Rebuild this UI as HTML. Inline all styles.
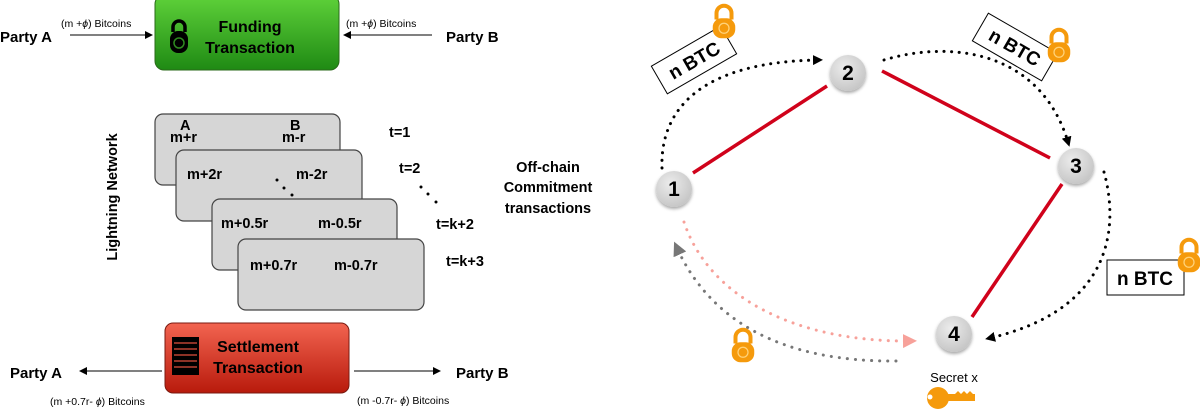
<!DOCTYPE html>
<html><head><meta charset="utf-8"><style>
html,body{margin:0;padding:0;background:#fff;width:1200px;height:412px;overflow:hidden}
svg{display:block}
text{font-family:"Liberation Sans",sans-serif}
.b{font-weight:bold}
</style></head><body>
<svg width="1200" height="412" viewBox="0 0 1200 412" xmlns="http://www.w3.org/2000/svg">
<defs>
<linearGradient id="g" x1="0" y1="0" x2="0" y2="1"><stop offset="0" stop-color="#5fd23a"/><stop offset="1" stop-color="#1f8a14"/></linearGradient>
<linearGradient id="r" x1="0" y1="0" x2="0" y2="1"><stop offset="0" stop-color="#f26450"/><stop offset="1" stop-color="#b81a0c"/></linearGradient>
<radialGradient id="n" cx="0.4" cy="0.35" r="0.7"><stop offset="0" stop-color="#ececec"/><stop offset="1" stop-color="#c4c4c4"/></radialGradient>
<filter id="sh" x="-50%" y="-50%" width="200%" height="200%"><feDropShadow dx="0" dy="2" stdDeviation="1.5" flood-opacity="0.35"/></filter>
<marker id="ab" markerWidth="10" markerHeight="10" refX="5" refY="5" orient="auto" markerUnits="userSpaceOnUse"><path d="M0,0 L10,5 L0,10 z" fill="#000"/></marker>
<marker id="ap" markerWidth="14" markerHeight="14" refX="7" refY="7" orient="auto" markerUnits="userSpaceOnUse"><path d="M0,0 L14,7 L0,14 z" fill="#f7a19a"/></marker>
<marker id="ag" markerWidth="14" markerHeight="14" refX="7" refY="7" orient="auto" markerUnits="userSpaceOnUse"><path d="M0,0 L14,7 L0,14 z" fill="#777"/></marker>
<marker id="sa" markerWidth="8" markerHeight="8" refX="7" refY="4" orient="auto" markerUnits="userSpaceOnUse"><path d="M0,0 L8,4 L0,8 z" fill="#000"/></marker>
<g id="lock" transform="scale(1.25)"><path d="M-6,-2 V-7 A6,6 0 0 1 6,-7 V-2" fill="none" stroke="#f59a0c" stroke-width="3.2"/><rect x="-9" y="-3" width="18" height="16" rx="7" fill="#f59a0c"/><circle cx="0" cy="5" r="4" fill="none" stroke="#ffd27a" stroke-width="1"/></g>
</defs>

<!-- Funding -->
<rect x="155" y="-5" width="184" height="75" rx="9" fill="url(#g)" stroke="#2a6a1a"/>
<g transform="translate(179,38)"><path d="M-6,-6 V-11 A6,6 0 0 1 6,-11 V-6" fill="none" stroke="#000" stroke-width="3.5"/><rect x="-9" y="-7" width="18" height="22" rx="8" fill="#000"/><circle cx="0" cy="5" r="5" fill="none" stroke="#2f8a20" stroke-width="1.5"/></g>
<text class="b" x="250" y="32" font-size="16" text-anchor="middle">Funding</text>
<text class="b" x="250" y="53" font-size="16" text-anchor="middle">Transaction</text>
<text class="b" x="0" y="42" font-size="15">Party A</text>
<text class="b" x="446" y="42" font-size="15">Party B</text>
<text x="61" y="27" font-size="10.5">(m +<tspan font-style="italic">ϕ</tspan>) Bitcoins</text>
<text x="346" y="27" font-size="10.5">(m +<tspan font-style="italic">ϕ</tspan>) Bitcoins</text>
<line x1="70" y1="35" x2="152" y2="35" stroke="#000" marker-end="url(#sa)"/>
<line x1="432" y1="35" x2="344" y2="35" stroke="#000" marker-end="url(#sa)"/>

<!-- cards -->
<g fill="#d6d6d6" stroke="#444" stroke-width="1.2">
<rect x="155" y="114" width="185" height="71" rx="8"/>
<rect x="176" y="150" width="186" height="71" rx="8"/>
<rect x="212" y="199" width="185" height="71" rx="8"/>
<rect x="238" y="239" width="186" height="71" rx="8"/>
</g>
<g font-size="14.5">
<text class="b" x="180" y="130">A</text><text class="b" x="290" y="130">B</text>
<text class="b" x="170" y="142">m+r</text><text class="b" x="282" y="142">m-r</text>
<text class="b" x="187" y="179">m+2r</text><text class="b" x="296" y="179">m-2r</text>
<text class="b" x="221" y="228">m+0.5r</text><text class="b" x="318" y="228">m-0.5r</text>
<text class="b" x="250" y="270">m+0.7r</text><text class="b" x="334" y="270">m-0.7r</text>
<text class="b" x="389" y="137">t=1</text><text class="b" x="399" y="173">t=2</text>
<text class="b" x="436" y="229">t=k+2</text><text class="b" x="446" y="266">t=k+3</text>
</g>
<g fill="#000"><circle cx="277" cy="180" r="1.5"/><circle cx="284" cy="188" r="1.5"/><circle cx="292" cy="195" r="1.5"/>
<circle cx="421" cy="187" r="1.5"/><circle cx="428" cy="194" r="1.5"/><circle cx="436" cy="202" r="1.5"/></g>
<g font-size="14.5" text-anchor="middle"><text class="b" x="548" y="172">Off-chain</text><text class="b" x="548" y="192">Commitment</text><text class="b" x="548" y="213">transactions</text></g>
<text class="b" x="0" y="0" font-size="14.5" text-anchor="middle" transform="translate(117,197) rotate(-90)">Lightning Network</text>

<!-- Settlement -->
<rect x="165" y="323" width="184" height="70" rx="8" fill="url(#r)" stroke="#7a1a10"/>
<g fill="#000"><rect x="172" y="337" width="27" height="38"/></g>
<g stroke="#e0503c" stroke-width="1.3"><line x1="174" y1="343" x2="197" y2="343"/><line x1="174" y1="349" x2="197" y2="349"/><line x1="174" y1="355" x2="197" y2="355"/><line x1="174" y1="361" x2="197" y2="361"/><line x1="174" y1="367" x2="197" y2="367"/></g>
<text class="b" x="258" y="352" font-size="16" text-anchor="middle">Settlement</text>
<text class="b" x="258" y="373" font-size="16" text-anchor="middle">Transaction</text>
<text class="b" x="10" y="378" font-size="15">Party A</text>
<text class="b" x="456" y="378" font-size="15">Party B</text>
<line x1="162" y1="371" x2="80" y2="371" stroke="#000" marker-end="url(#sa)"/>
<line x1="354" y1="371" x2="440" y2="371" stroke="#000" marker-end="url(#sa)"/>
<text x="50" y="405" font-size="10.5">(m +0.7r- <tspan font-style="italic">ϕ</tspan>) Bitcoins</text>
<text x="357" y="404" font-size="10.5">(m -0.7r- <tspan font-style="italic">ϕ</tspan>) Bitcoins</text>

<!-- Right network -->
<g stroke="#d0021b" stroke-width="3.5">
<line x1="693" y1="173" x2="827" y2="86"/>
<line x1="882" y1="71" x2="1050" y2="158"/>
<line x1="1062" y1="184" x2="972" y2="317"/>
</g>
<g fill="none" stroke="#000" stroke-width="3" stroke-dasharray="0.1 7.5" stroke-linecap="round">
<path d="M662,168 C660,110 700,62 818,60" marker-end="url(#ab)"/>
<path d="M884,60 C950,40 1040,50 1068,142" marker-end="url(#ab)"/>
<path d="M1104,172 C1120,230 1110,310 990,338" marker-end="url(#ab)"/>
</g>
<path d="M684,222 C710,300 800,342 910,341" fill="none" stroke="#f7a19a" stroke-width="3" stroke-dasharray="0.1 8" stroke-linecap="round" marker-end="url(#ap)"/>
<path d="M896,361 C780,362 710,320 677,248" fill="none" stroke="#777" stroke-width="3" stroke-dasharray="0.1 8" stroke-linecap="round" marker-end="url(#ag)"/>
<g font-size="21" text-anchor="middle">
<circle cx="674" cy="189" r="18" fill="url(#n)" filter="url(#sh)"/><text class="b" x="674" y="196">1</text>
<circle cx="848" cy="73" r="18" fill="url(#n)" filter="url(#sh)"/><text class="b" x="848" y="80">2</text>
<circle cx="1076" cy="166" r="18" fill="url(#n)" filter="url(#sh)"/><text class="b" x="1076" y="173">3</text>
<circle cx="954" cy="334" r="18" fill="url(#n)" filter="url(#sh)"/><text class="b" x="954" y="341">4</text>
</g>
<g font-size="19">
<g transform="translate(694,60) rotate(-30)"><rect x="-40" y="-16" width="80" height="32" fill="#fff" stroke="#000"/><text class="b" x="0" y="7" text-anchor="middle">n BTC</text></g>
<g transform="translate(1015,47) rotate(30)"><rect x="-40" y="-16" width="80" height="32" fill="#fff" stroke="#000"/><text class="b" x="0" y="7" text-anchor="middle">n BTC</text></g>
<rect x="1107" y="260" width="77" height="35" fill="#fff" stroke="#000"/><text class="b" x="1145" y="285" text-anchor="middle">n BTC</text>
</g>
<use href="#lock" x="724" y="22"/>
<use href="#lock" x="1059" y="46"/>
<use href="#lock" x="1189" y="256"/>
<use href="#lock" x="743" y="346"/>
<text x="954" y="382" font-size="13" text-anchor="middle">Secret x</text>
<g fill="#f59a0c"><circle cx="938" cy="398" r="11"/><rect x="945" y="394" width="30" height="7"/><path d="M955,394 l3,-3 l3,3 l3,-3 l3,3 l3,-3 l3,3 z"/></g>
<circle cx="930" cy="397" r="2.5" fill="#fff"/>
</svg>
</body></html>
